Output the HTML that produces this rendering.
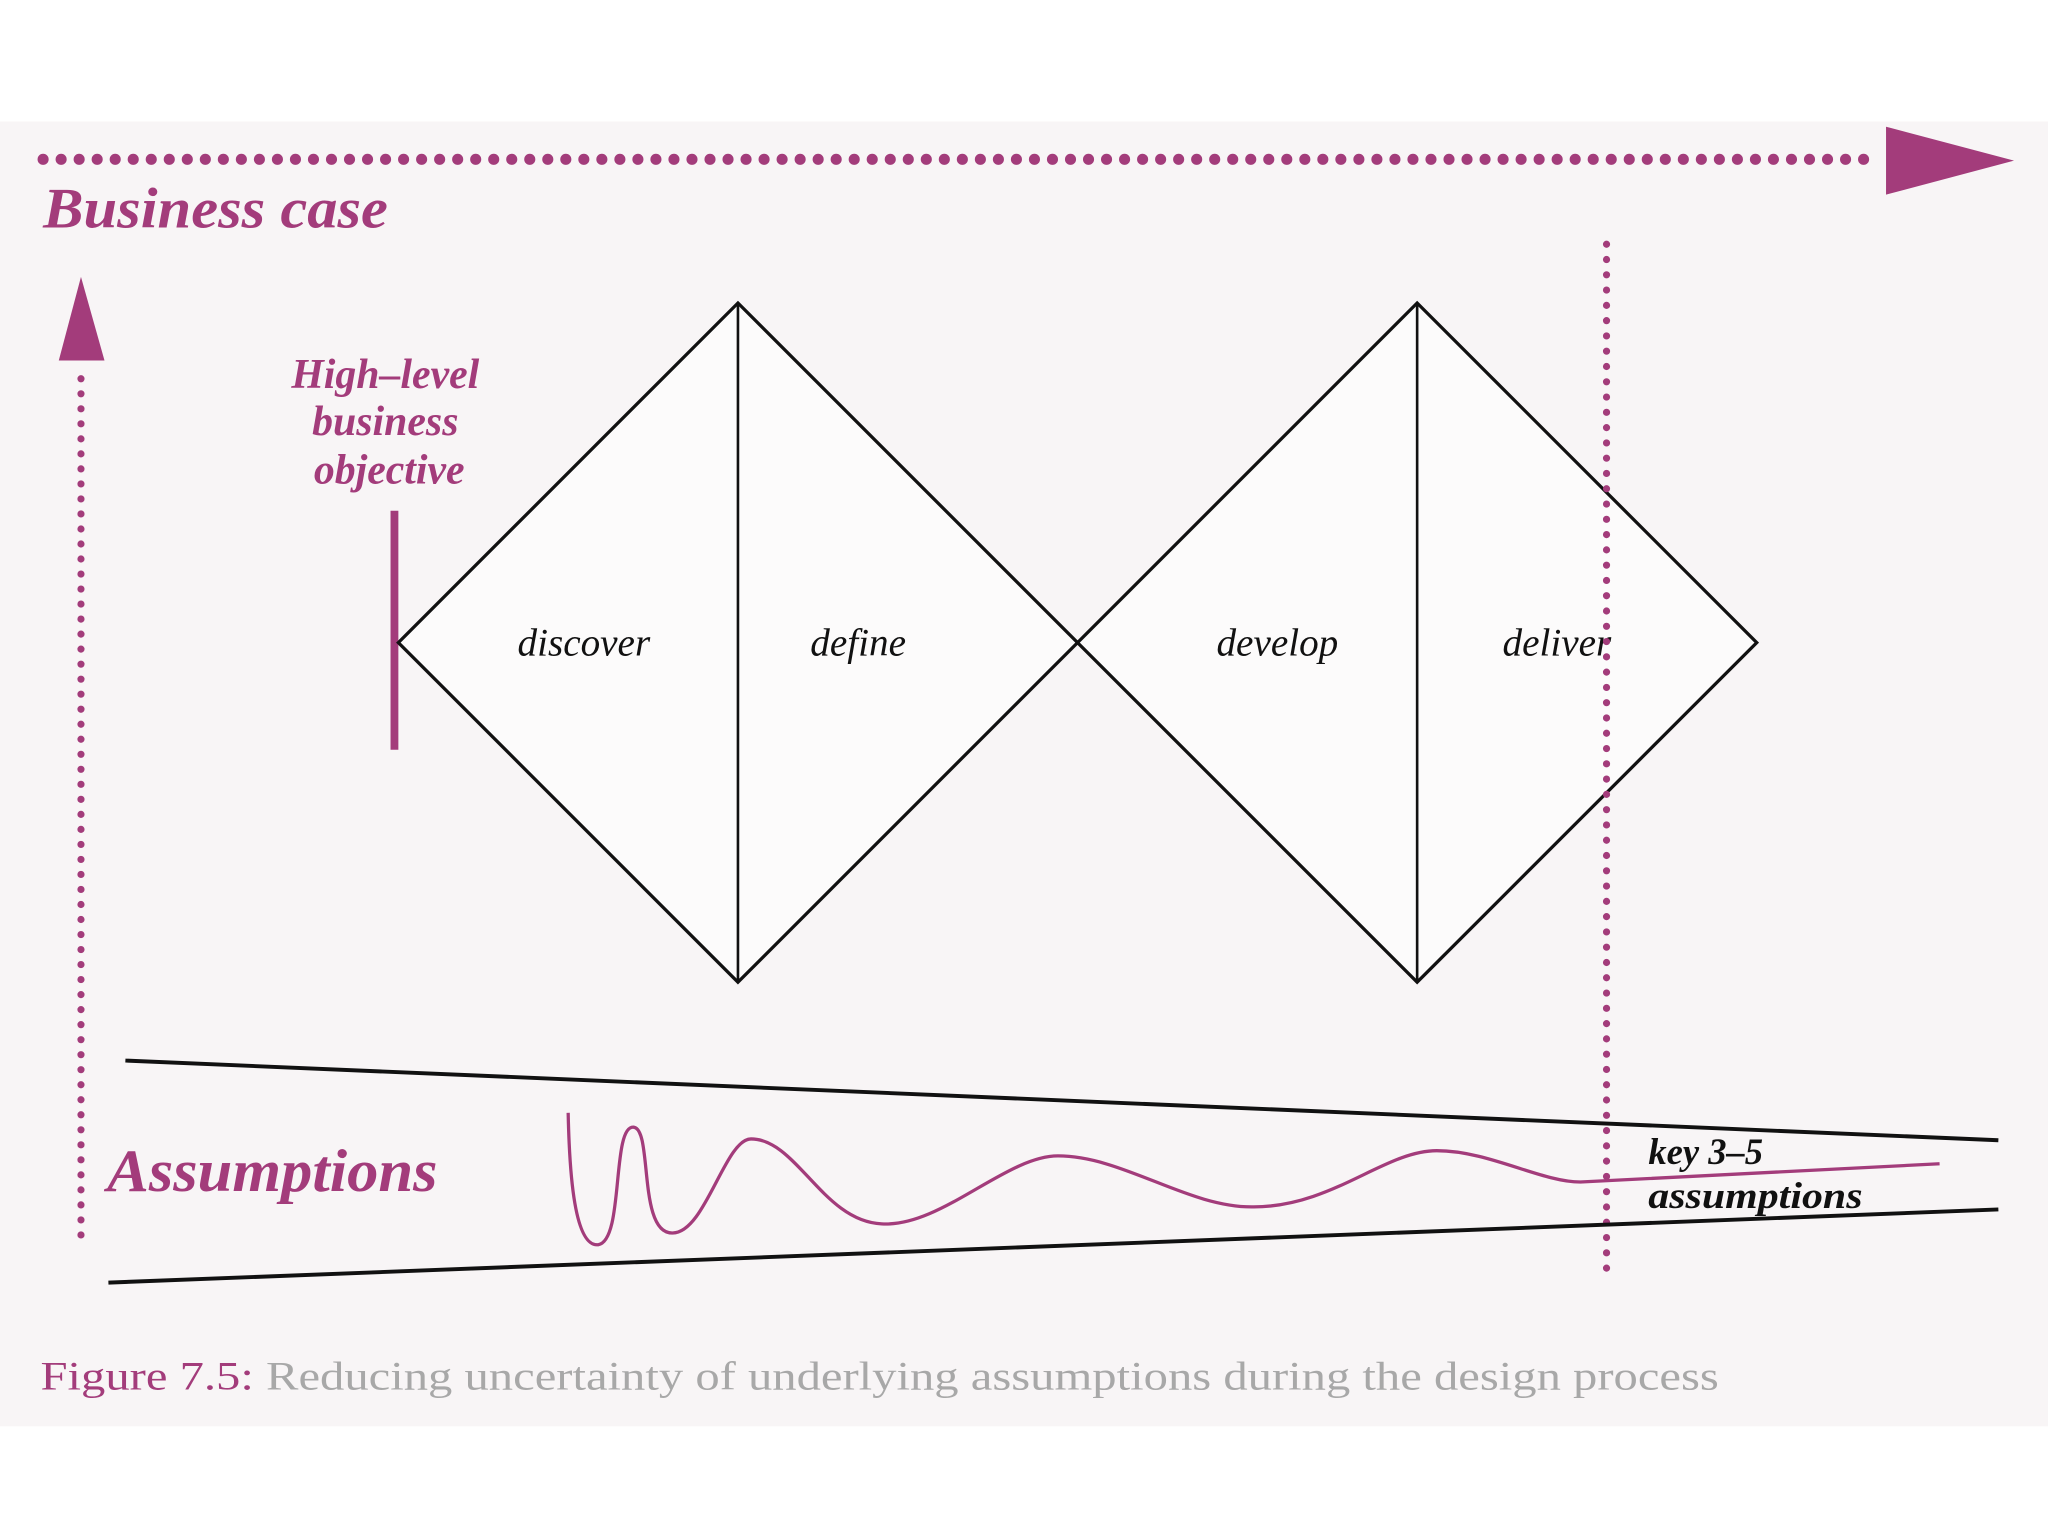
<!DOCTYPE html>
<html><head><meta charset="utf-8"><style>
html,body{margin:0;padding:0;background:#fff;}
svg{display:block;}
text{font-family:"Liberation Serif",serif;font-style:italic;}
</style></head><body>
<svg width="2048" height="1536" viewBox="0 0 1568 1176" xmlns="http://www.w3.org/2000/svg">
<rect x="0" y="0" width="1568" height="1176" fill="#fff"/>
<rect x="0" y="93" width="1568" height="999" fill="#f8f5f6"/>
<line x1="33" y1="122" x2="1440" y2="122" stroke="#a33c7b" stroke-width="8.5" stroke-linecap="round" stroke-dasharray="0 13.8"/>
<polygon points="1444,97 1542,123 1444,149" fill="#a33c7b"/>
<text x="33" y="174" font-size="44" fill="#a33c7b" font-weight="bold" textLength="264" lengthAdjust="spacingAndGlyphs">Business case</text>
<line x1="62" y1="290" x2="62" y2="955" stroke="#a33c7b" stroke-width="5.5" stroke-linecap="round" stroke-dasharray="0 11.5"/>
<polygon points="62,212 80,276 45,276" fill="#a33c7b"/>
<text font-size="32" fill="#a33c7b" font-weight="bold" text-anchor="middle">
<tspan x="295" y="297">High–level</tspan><tspan x="295" y="333">business</tspan><tspan x="298" y="370">objective</tspan></text>
<line x1="302" y1="391" x2="302" y2="574" stroke="#a33c7b" stroke-width="6"/>
<polygon points="305,492 565,232 825,492 565,752" fill="#fcfbfb" stroke="#111" stroke-width="2.5"/>
<polygon points="825,492 1085,232 1345,492 1085,752" fill="#fcfbfb" stroke="#111" stroke-width="2.5"/>
<line x1="565" y1="232" x2="565" y2="752" stroke="#111" stroke-width="2"/>
<line x1="1085" y1="232" x2="1085" y2="752" stroke="#111" stroke-width="2"/>
<text font-size="30" fill="#111" text-anchor="middle">
<tspan x="447" y="502">discover</tspan><tspan x="657" y="502">define</tspan><tspan x="978" y="502">develop</tspan><tspan x="1192" y="502">deliver</tspan></text>
<line x1="1230" y1="187" x2="1230" y2="975" stroke="#a33c7b" stroke-width="5.5" stroke-linecap="round" stroke-dasharray="0 11.7"/>
<line x1="96" y1="812" x2="1530" y2="873" stroke="#111" stroke-width="3"/>
<line x1="83" y1="982" x2="1530" y2="926" stroke="#111" stroke-width="3"/>
<text x="82" y="912" font-size="46" fill="#a33c7b" font-weight="bold" textLength="253" lengthAdjust="spacingAndGlyphs">Assumptions</text>
<path d="M435,852 C436,900 440,955 458,953 C478,950 468,862 485,863 C500,864 488,945 515,944 C540,944 555,872 575,872 C610,872 630,935 675,937 C720,940 770,885 810,885 C860,885 910,925 960,924 C1020,924 1060,881 1100,881 C1140,881 1180,905 1210,905 L1485,891" fill="none" stroke="#a33c7b" stroke-width="2.5"/>
<text font-size="28" fill="#111" font-weight="bold">
<tspan x="1262" y="891">key 3–5</tspan><tspan x="1262" y="925" textLength="164" lengthAdjust="spacingAndGlyphs">assumptions</tspan></text>
<text x="31" y="1064" font-size="31" fill="#a33c7b" style="font-style:normal" textLength="1285" lengthAdjust="spacingAndGlyphs">Figure 7.5: <tspan fill="#a8a8a8">Reducing uncertainty of underlying assumptions during the design process</tspan></text>
</svg>
</body></html>
